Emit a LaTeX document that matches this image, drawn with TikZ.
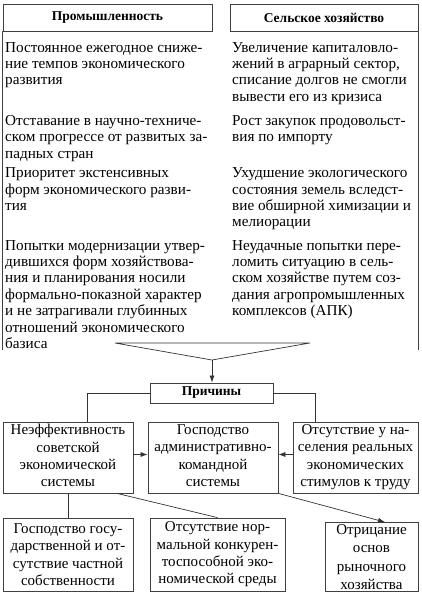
\documentclass[tikz,border=0pt]{standalone}
\usepackage{fontspec}
\setmainfont{Liberation Serif}
\usetikzlibrary{arrows.meta,calc}
\tikzset{
  frame/.style={draw=black!75, line width=0.8pt},
  box/.style={frame, inner sep=0pt, align=center, font=\fontsize{15}{17.4}\selectfont},
  hdr/.style={frame, inner sep=0pt, font=\fontsize{13.5}{15}\selectfont\bfseries},
  txt/.style={inner sep=0pt, anchor=north west, align=left, font=\fontsize{15.2}{16.4}\selectfont},
  conn/.style={draw=black!80, line width=0.7pt},
  arr/.style={conn, -{Latex[length=7pt,width=5pt]}}
}
\begin{document}
\begin{tikzpicture}[x=1pt,y=-1pt]
\useasboundingbox (0,0) rectangle (421,593);
% headers
\node[hdr, minimum width=209, minimum height=27] (h1) at (107.5,17.5) {Промышленность};
\node[hdr, minimum width=188, minimum height=27] (h2) at (324,17.5) {Сельское хозяйство};
\draw[frame] (h1.south west) -- ++(0,319);
\draw[frame] (h2.south east) -- ++(0,319);
% left column
\node[txt] (l1) at (5,42) {Постоянное ежегодное сниже-\\ние темпов экономического\\развития};
\node[txt] (l2) at (5,115) {Отставание в научно-техниче-\\ском прогрессе от развитых за-\\падных стран};
\node[txt] (l3) at (5,167.5) {Приоритет экстенсивных\\форм экономического разви-\\тия};
\node[txt] (l4) at (5,240) {Попытки модернизации утвер-\\дившихся форм хозяйствова-\\ния и планирования носили\\формально-показной характер\\и не затрагивали глубинных\\отношений экономического\\базиса};
% right column
\node[txt] (r1) at (232,42) {Увеличение капиталовло-\\жений в аграрный сектор,\\списание долгов не смогли\\вывести его из кризиса};
\node[txt] (r2) at (232,115) {Рост закупок продовольст-\\вия по импорту};
\node[txt] (r3) at (232,167.5) {Ухудшение экологического\\состояния земель вследст-\\вие обширной химизации и\\мелиорации};
\node[txt] (r4) at (232,240) {Неудачные попытки пере-\\ломить ситуацию в сель-\\ском хозяйстве путем соз-\\дания агропромышленных\\комплексов (АПК)};
% funnel
\coordinate (fl) at (115,343);
\coordinate (fr) at (310,343);
\coordinate (apex) at (212,360);
\draw[conn] (fl) -- (fr) -- (apex) -- cycle;
% causes
\node[hdr, minimum width=123, minimum height=20] (p) at (211.5,393) {Причины};
\draw[arr] (apex) -- (p.north -| apex);
\node[box, minimum width=130, minimum height=71, text depth=4pt] (m1) at (68,457.5) {Неэффективность\\советской\\экономической\\системы};
\node[box, minimum width=130, minimum height=71, text depth=4pt] (m2) at (213,457.5) {Господство\\административно-\\командной\\системы};
\node[box, minimum width=125, minimum height=71, text depth=4pt] (m3) at (355.5,457.5) {Отсутствие у на-\\селения реальных\\экономических\\стимулов к труду};
\draw[conn] (p.west) -| ([xshift=19]m1.north);
\draw[conn] (p.east) -| ([xshift=-40.5]m3.north);
\draw[arr] ([yshift=3]m1.east) -- ([yshift=3]m2.west);
\draw[arr] ([yshift=3]m3.west) -- ([yshift=3]m2.east);
% bottom
\node[box, minimum width=130, minimum height=73] (b1) at (68,554.5) {Господство госу-\\дарственной и от-\\сутствие частной\\собственности};
\node[box, minimum width=135, minimum height=73] (b2) at (217.5,554.5) {Отсутствие нор-\\мальной конкурен-\\тоспособной эко-\\номической среды};
\node[box, minimum width=93, minimum height=69, font=\fontsize{15}{18.5}\selectfont] (b3) at (371.5,557) {Отрицание\\основ\\рыночного\\хозяйства};
\draw[conn] (m1.south) -- (b1.north);
\draw[conn] ([xshift=49]m1.south) -- (b2.north);
\draw[arr] (m2.south east) -- ([xshift=13.5]b3.north);
\end{tikzpicture}
\end{document}
